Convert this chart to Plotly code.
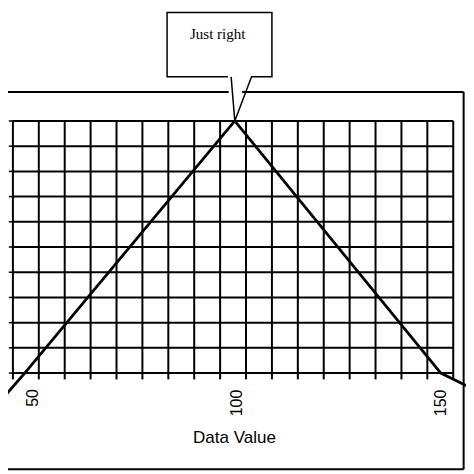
import plotly.graph_objects as go

# line data (x in data units, y in grid units)
line_x = [42.65, 48.0, 99.5, 150.0, 160.0]
line_y = [-1.0, 0.0, 10.0, 0.0, -0.8]

tick_vals = [50, 100, 150]
tick_text = ["50", "100", "150"]
x_label = "Data Value"
callout = "Just right"

x0, dx, n_vcols = 45.1, 6.35, 17
n_rows = 10

fig = go.Figure()
fig.add_trace(go.Scatter(x=line_x, y=line_y, mode="lines",
                         line=dict(color="black", width=2.8), showlegend=False))

shapes = []
blk = dict(color="black", width=2)
x_end = x0 + dx * n_vcols
for k in range(n_vcols + 1):
    xv = x0 + k * dx
    shapes.append(dict(type="line", x0=xv, x1=xv, y0=0, y1=n_rows, line=blk))
    shapes.append(dict(type="line", x0=xv, x1=xv, y0=-0.25, y1=0, line=blk))
for j in range(n_rows + 1):
    shapes.append(dict(type="line", x0=x0, x1=x_end, y0=j, y1=j, line=blk))
    shapes.append(dict(type="line", x0=x0 - 1.0, x1=x0, y0=j, y1=j, line=dict(color="black", width=1.5)))

# outer frame (open at top where callout pointer passes)
for seg in [(42.0, 11.15, 98.0, 11.15), (101.3, 11.15, 155.6, 11.15),
            (155.6, 11.15, 155.6, -3.81), (42.0, -3.81, 155.6, -3.81)]:
    shapes.append(dict(type="line", x0=seg[0], y0=seg[1], x1=seg[2], y1=seg[3], line=blk))
# callout box with pointer
shapes.append(dict(type="path",
                   path="M 97.8,11.75 L 82.9,11.75 L 82.9,14.3 L 108.6,14.3 L 108.6,11.75 L 103.6,11.75 L 99.5,10.0 L 98.6,11.75",
                   line=dict(color="black", width=1.5)))

annotations = [dict(x=95.5, y=13.45, text=callout, showarrow=False,
                    font=dict(family="Liberation Serif", size=15, color="black"))]
for v, t in zip(tick_vals, tick_text):
    annotations.append(dict(x=v, y=-0.55, text=t, textangle=-90, showarrow=False,
                            yanchor="top", font=dict(family="Liberation Sans", size=16, color="black")))
annotations.append(dict(x=99.5, y=-2.55, text=x_label, showarrow=False,
                        font=dict(family="Liberation Sans", size=17, color="black")))

fig.update_layout(
    width=474, height=474, margin=dict(l=0, r=0, t=0, b=0),
    paper_bgcolor="white", plot_bgcolor="white",
    xaxis=dict(range=[43.9, 160.1], visible=False, showgrid=False),
    yaxis=dict(range=[-4.32, 14.48], visible=False, showgrid=False),
    shapes=shapes, annotations=annotations,
)

fig.write_html("out.html")
